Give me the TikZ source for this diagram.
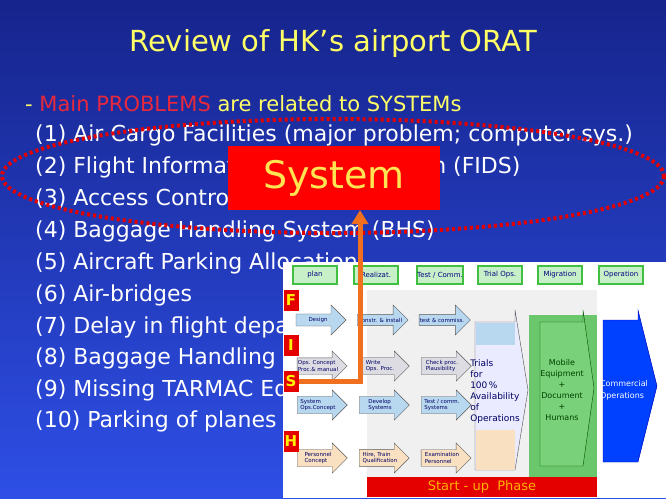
\documentclass[tikz,border=0pt]{standalone}
\usepackage{fontspec}
\setmainfont{DejaVu Sans}
\usetikzlibrary{shapes.arrows,shapes.geometric,arrows.meta}
\definecolor{bgtop}{HTML}{16248C}
\definecolor{bgbot}{HTML}{2E4FE6}
\definecolor{ttl}{HTML}{FFFF66}
\definecolor{pred}{HTML}{E8283C}
\definecolor{org}{HTML}{F07020}
\definecolor{hdr}{HTML}{C8F0C8}
\definecolor{ablue}{HTML}{B8D8F0}
\definecolor{apeach}{HTML}{F8E0C0}
\tikzset{
  line/.style={anchor=west,text=white,font=\fontsize{22}{22}\selectfont,inner sep=0pt},
  hbox/.style={draw=green!50!gray,fill=hdr,line width=1.5pt,minimum width=44pt,minimum height=18pt,inner sep=0pt,font=\fontsize{7}{7}\selectfont,text=blue!50!black},
  arr/.style={single arrow,draw=gray!70!black,fill=ablue,minimum height=50pt,minimum width=30pt,single arrow head extend=5pt,inner sep=0.5pt,font=\fontsize{5.5}{6.5}\selectfont,text=blue!40!black,align=left},
  letter/.style={fill=red!90!black,text=yellow,font=\bfseries\fontsize{15}{15}\selectfont,minimum width=15pt,minimum height=21pt,inner sep=0pt},
  bigtx/.style={font=\fontsize{9}{11}\selectfont,align=left},
}
\begin{document}
\begin{tikzpicture}[x=1pt,y=-1pt]
\useasboundingbox (0,0) rectangle (666,498);
\shade[top color=bgtop,bottom color=bgbot] (0,0) rectangle (666,498);
\node[text=ttl,font=\fontsize{29}{29}\selectfont] (title) at (333,43) {Review of HK’s airport ORAT};
\node[anchor=west,font=\fontsize{21}{21}\selectfont,inner sep=0pt] (head) at (25,104) {\textcolor{ttl}{-} \textcolor{pred}{Main PROBLEMS} \textcolor{ttl}{are related to SYSTEMs}};
\node[line] (l1) at (35,135) {(1) Air Cargo Facilities (major problem; computer sys.)};
\node[line] (l2) at (35,167) {(2) Flight Information Display System (FIDS)};
\node[line] (l3) at (35,199) {(3) Access Control System (ACS)};
\node[line] (l4) at (35,231) {(4) Baggage Handling System (BHS)};
\node[line] (l5) at (35,263) {(5) Aircraft Parking Allocation};
\node[line] (l6) at (35,295) {(6) Air-bridges};
\node[line] (l7) at (35,327) {(7) Delay in flight departure};
\node[line] (l8) at (35,358) {(8) Baggage Handling Equipment};
\node[line] (l9) at (35,390) {(9) Missing TARMAC Equipment};
\node[line] (l10) at (35,421) {(10) Parking of planes};
% embedded chart
\fill[white] (283,262) rectangle (666,498);
\fill[gray!12] (367,290) rectangle (597,480);
\fill[green!45!gray!80] (529,315) rectangle (597,478);
\node[hbox] (h1) at (315,275) {plan};
\node[hbox] (h2) at (376,275) {Realizat.};
\node[hbox] (h3) at (440,275) {Test / Comm.};
\node[hbox] (h4) at (500,275) {Trial Ops.};
\node[hbox] (h5) at (560,275) {Migration};
\node[hbox] (h6) at (621,275) {Operation};
\node[arr] (a11) at (318,320) {Design};
\node[arr] (a12) at (380,320) {Constr. \& install};
\node[arr] (a13) at (442,320) {test \& commiss.};
\node[arr,fill=blue!10!gray!25] (a21) at (318,366) {Ops. Concept\\Proc.\& manual};
\node[arr,fill=blue!10!gray!25] (a22) at (380,366) {Write\\Ops. Proc.};
\node[arr,fill=blue!10!gray!25] (a23) at (442,366) {Check proc.\\Plausibility};
\node[arr] (a31) at (318,405) {System\\Ops.Concept};
\node[arr] (a32) at (380,405) {Develop\\Systems};
\node[arr] (a33) at (442,405) {Test / comm.\\Systems};
\node[arr,fill=apeach] (a41) at (318,458) {Personnel\\Concept};
\node[arr,fill=apeach] (a42) at (380,458) {Hire, Train\\Qualification};
\node[arr,fill=apeach] (a43) at (442,458) {Examination\\Personnel};
% big arrows
\filldraw[draw=gray!60!black,fill=blue!8] (475,322) -- (515,322) -- (515,310) -- (528,390) -- (515,470) -- (475,470) -- cycle;
\fill[ablue] (475.5,322.5) rectangle (514.5,345);
\fill[apeach] (475.5,430) rectangle (514.5,469.5);
\node[bigtx,text=blue!40!black] (trtx) at (495,392) {Trials\\for\\100\,\%\\Availability\\of\\Operations};
\filldraw[draw=green!30!black,fill=green!50!gray!70] (540,322) -- (583,322) -- (583,310) -- (594,388) -- (583,466) -- (540,466) -- cycle;
\node[font=\fontsize{8}{11}\selectfont,text=green!25!black,align=center] (mgtx) at (562,390) {Mobile\\Equipment\\+\\Document\\+\\Humans};
\filldraw[draw=blue!70!black,fill=blue!75!cyan] (603,320) -- (638,320) -- (638,310) -- (657,386) -- (638,462) -- (603,462) -- cycle;
\node[font=\fontsize{8}{12}\selectfont,text=white,align=left] (cmtx) at (624,390) {Commercial\\Operations};
\node[fill=red!90!black,text=orange!60!yellow,minimum width=230pt,minimum height=20pt,inner sep=0pt,font=\fontsize{13}{13}\selectfont] (start) at (482,487) {Start - up\ \ Phase};
\node[letter] (F) at (291,300) {F};
\node[letter] (I) at (291,345) {I};
\node[letter] (S) at (291,381) {S};
\node[letter] (H) at (291,441) {H};
% overlay
\draw[red!90!black,line width=4pt,dash pattern=on 3pt off 3pt] (333,176) ellipse [x radius=331,y radius=57];
\node[fill=red,text=ttl!80!orange,minimum width=212pt,minimum height=64pt,inner sep=0pt,font=\fontsize{38}{38}\selectfont] (sys) at (334,178) {System};
\coordinate (tgt) at (360,210);
\draw[org,line width=5pt,-{Triangle[length=14pt,width=16pt]}] (S.east) -| (tgt);
\end{tikzpicture}
\end{document}
